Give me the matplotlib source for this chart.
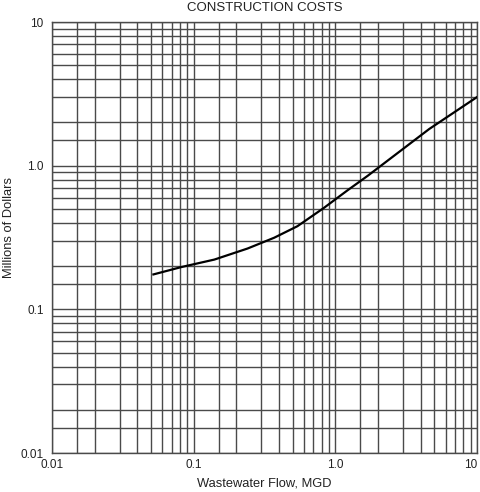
import matplotlib
matplotlib.use("Agg")
import matplotlib.pyplot as plt
from matplotlib.ticker import FixedLocator, FixedFormatter, NullFormatter

# curve (MGD -> millions of dollars)
flow = [0.052, 0.082, 0.14, 0.24, 0.37, 0.54, 0.83, 1.22, 1.7, 4.6, 10.5]
cost = [0.175, 0.197, 0.222, 0.265, 0.315, 0.379, 0.508, 0.674, 0.853, 1.8, 3.1]

x_major = [0.01, 0.1, 1.0, 10]
x_labels = ["0.01", "0.1", "1.0", "10"]
y_major = [0.01, 0.1, 1.0, 10]
y_labels = ["0.01", "0.1", "1.0", "10"]
minor_steps = [1.5, 2, 3, 4, 5, 6, 7, 8, 9]

plt.rcParams['font.family'] = ['Liberation Sans', 'DejaVu Sans']

fig = plt.figure(figsize=(4.8, 4.92), dpi=100)
ax = fig.add_axes([52 / 480, 1 - 453 / 492, 425 / 480, 431 / 492])
ax.set_xscale('log')
ax.set_yscale('log')
ax.set_xlim(0.01, 10)
ax.set_ylim(0.01, 10)

minors = [d * s for d in [0.01, 0.1, 1.0] for s in minor_steps]
ax.xaxis.set_major_locator(FixedLocator(x_major))
ax.xaxis.set_major_formatter(FixedFormatter(x_labels))
ax.yaxis.set_major_locator(FixedLocator(y_major))
ax.yaxis.set_major_formatter(FixedFormatter(y_labels))
ax.xaxis.set_minor_locator(FixedLocator(minors))
ax.yaxis.set_minor_locator(FixedLocator(minors))
ax.xaxis.set_minor_formatter(NullFormatter())
ax.yaxis.set_minor_formatter(NullFormatter())

grid_col = '#4a4a4a'
ax.grid(True, which='both', color=grid_col, linewidth=1.0)
ax.tick_params(which='both', length=0, labelsize=8.5, colors='#222222')
ax.tick_params(axis='x', pad=4)
ax.tick_params(axis='y', pad=6)
for s in ax.spines.values():
    s.set_color(grid_col)
    s.set_linewidth(1.0)

ax.plot(flow, cost, color='black', linewidth=1.6, clip_on=True, zorder=3)

ax.set_title('CONSTRUCTION COSTS', fontsize=9.5, pad=8, color='#222222')
ax.set_xlabel('Wastewater Flow, MGD', fontsize=9.3, labelpad=5, color='#222222')
ax.set_ylabel('Millions of Dollars', fontsize=9.3, color='#222222')
ax.yaxis.set_label_coords(-0.088, 0.524)

# keep the last x label inside the picture
ax.get_xticklabels()[-1].set_horizontalalignment('right')

fig.savefig('out.png', dpi=100)
